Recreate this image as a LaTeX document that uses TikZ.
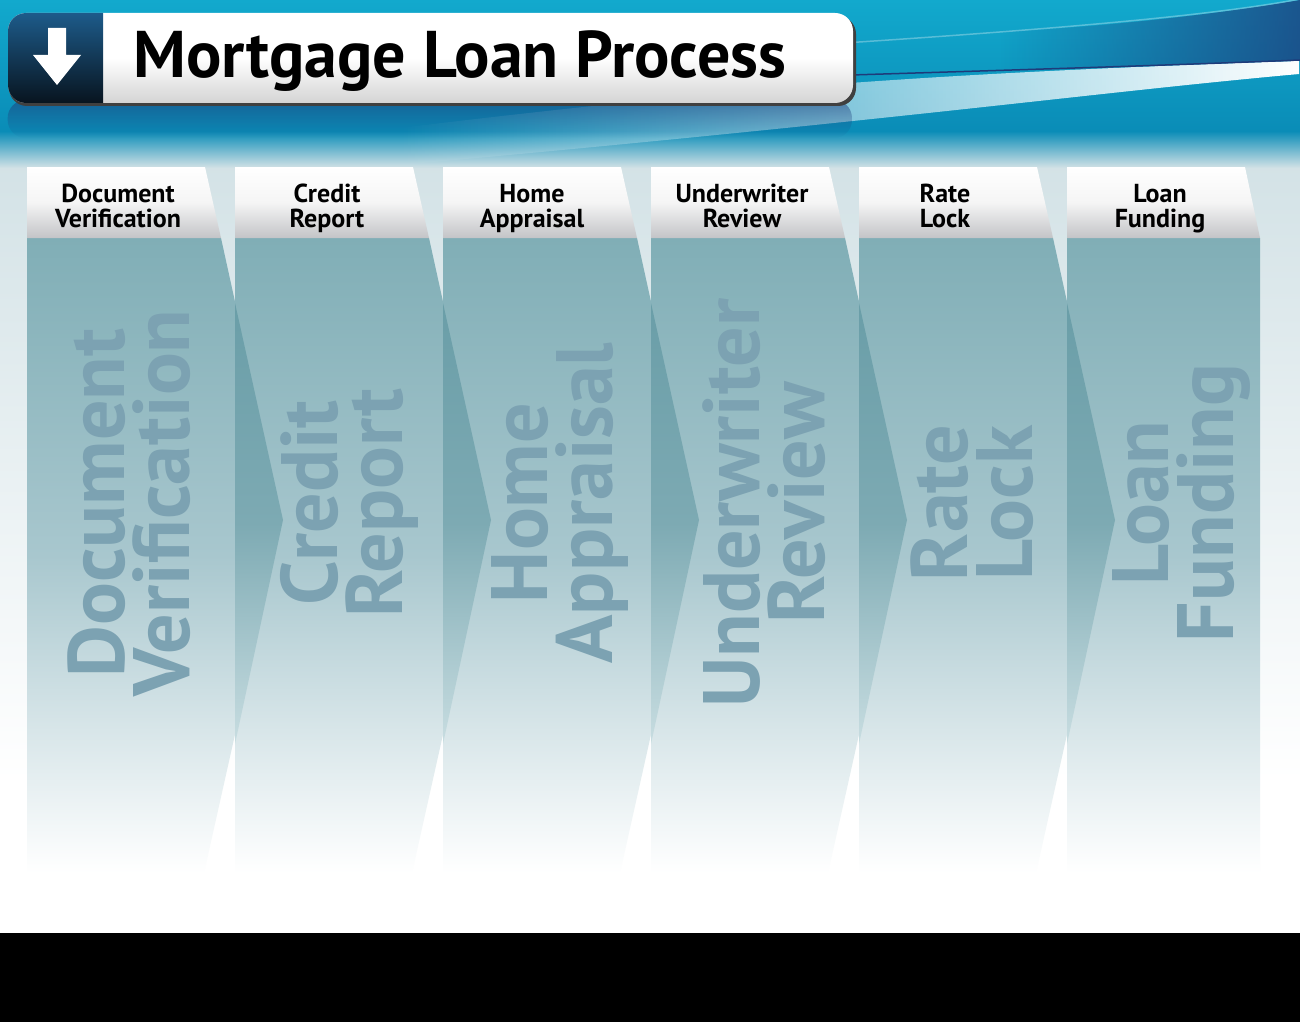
\documentclass[tikz,border=0pt]{standalone}
\usepackage{fontspec}
\setmainfont{PT Sans}
\usetikzlibrary{fadings}

\definecolor{banner}{HTML}{12A9CD}
\definecolor{bannerdark}{HTML}{0A8CB7}
\definecolor{navy}{HTML}{1E3B7A}
\definecolor{mist}{HTML}{D3E2E6}
\definecolor{coltop}{HTML}{80AEB6}
\definecolor{colmid}{HTML}{A8C7CE}
\definecolor{fold}{HTML}{6A9EA8}
\definecolor{foldmid}{HTML}{7DAAB3}
\definecolor{foldbot}{HTML}{C8DDE1}
\definecolor{headgray}{HTML}{C3C4C7}
\definecolor{bigtext}{HTML}{7CA2B2}
\definecolor{icontop}{HTML}{1D5B8A}
\definecolor{iconbot}{HTML}{08141F}
\definecolor{btngray}{HTML}{D4D4D4}

\tikzfading[name=fadeeast, left color=transparent!100, right color=transparent!0]
\tikzfading[name=fadesouth, top color=transparent!45, bottom color=transparent!100]

\tikzset{
  column/.style={top color=coltop, bottom color=white, middle color=colmid},
  foldpart/.style={top color=fold, bottom color=foldbot, middle color=foldmid},
  headbox/.style={top color=white, bottom color=headgray, middle color=white!96!black},
  headlabel/.style={align=center, font=\bfseries\fontsize{26}{25}\selectfont,
    execute at end node=\strut},
  biglabel/.style={rotate=90, align=center, text=bigtext,
    font=\bfseries\fontsize{80}{65}\selectfont, execute at end node=\strut},
}

\begin{document}
\begin{tikzpicture}[x=1pt, y=-1pt]
    \useasboundingbox (0,0) rectangle (1300,1022);

    % Background
    \fill[white] (0,0) rectangle (1300,1022);
    \shade[top color=mist, bottom color=white] (0,160) rectangle (1300,780);

    % Banner
    \shade[top color=banner, bottom color=bannerdark] (0,0) rectangle (1300,132);
    \shade[top color=bannerdark, bottom color=mist] (0,131) rectangle (1300,168);
    \fill[navy, path fading=fadeeast, fill opacity=0.75] (1000,32) .. controls (1120,26) and (1230,12) .. (1300,0)
        -- (1300,61) .. controls (1200,64) and (1100,68) .. (1000,71) -- cycle;
    \draw[white, opacity=0.3, line width=1.5] (700,52) .. controls (1000,34) and (1200,18) .. (1300,-1);
    \fill[white, path fading=fadeeast] (400,128) .. controls (700,92) and (900,74) .. (1300,61)
        -- (1300,74) .. controls (1100,92) and (900,120) .. (400,165) -- cycle;
    \draw[navy, line width=1.5] (700,80) .. controls (900,73) and (1100,68) .. (1300,60);

    % Title button
    \fill[navy, path fading=fadesouth, rounded corners=18] (8,100) rectangle (853,138);
    \fill[black!75, rounded corners=18] (9,16) rectangle (856,106);
    \shade[top color=white, bottom color=btngray, middle color=white, rounded corners=18] (8,13) rectangle (853,103);
    \begin{scope}
        \clip (0,0) rectangle (103,120);
        \shade[top color=icontop, bottom color=iconbot, rounded corners=18] (8,13) rectangle (853,103);
    \end{scope}
    \fill[white] (48,28) -- (66,28) -- (66,55) -- (81,55) -- (57,85) -- (33,55) -- (48,55) -- cycle;
    \node[anchor=base west, inner sep=0, font=\bfseries\fontsize{66}{70}\selectfont] (title) at (133,78) {Mortgage Loan Process};

    % Columns, drawn from the right so each arrow lies over the next one
    \shade[column] (1067,238) -- (1260,238) -- (1260,873) -- (1067,873) -- cycle;
    \foreach \i in {4,3,2,1,0}{
        \pgfmathsetmacro{\colx}{27+208*\i}
        \shade[column] (\colx,238) -- (\colx+194,238) -- (\colx+256,520) -- (\colx+177,873) -- (\colx,873) -- cycle;
        \shade[foldpart] (\colx+208,303) -- (\colx+256,520) -- (\colx+208,744) -- cycle;
    }

    % Headers
    \foreach \i in {0,...,4}{
        \pgfmathsetmacro{\colx}{27+208*\i}
        \shade[headbox] (\colx,167) -- (\colx+178,167) -- (\colx+194,238) -- (\colx,238) -- cycle;
    }
    \shade[headbox] (1067,167) -- (1245,167) -- (1260,238) -- (1067,238) -- cycle;

    % Step labels
    \foreach \i/\hx/\bx/\txt in {0/118/138/{Document\\Verification}, 1/327/351/{Credit\\Report},
        2/532/562/{Home\\Appraisal}, 3/742/773/{Underwriter\\Review},
        4/945/981/{Rate\\Lock}, 5/1160/1183/{Loan\\Funding}}{
        \node[headlabel] (head\i) at (\hx,209.5) {\txt};
        \node[biglabel] (big\i) at (\bx,503) {\txt};
    }

    % Footer band
    \fill[black] (0,933) rectangle (1300,1022);
\end{tikzpicture}
\end{document}
